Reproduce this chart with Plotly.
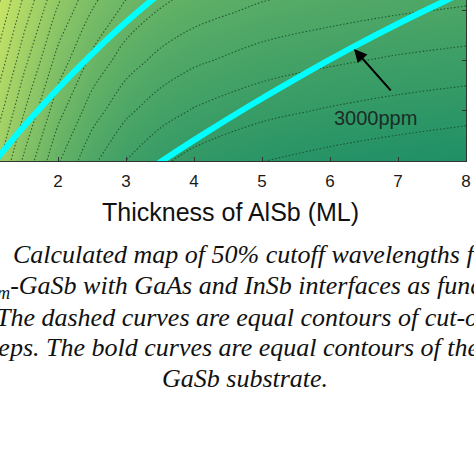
import plotly.graph_objects as go

# ---- data ----
# grid for the cut-off wavelength map (arbitrary um units)
alsb_ml = [1.1, 1.5, 2.0, 2.5, 3.0, 3.5, 4.0, 5.0, 6.0, 7.0, 8.0]
inas_ml = [6, 7, 8, 9, 10]
cutoff = [
    [10.15, 8.90, 7.56, 6.61, 5.99, 5.59, 5.33, 5.01, 4.82, 4.68, 4.56],
    [10.78, 9.53, 8.18, 7.24, 6.61, 6.22, 5.96, 5.64, 5.45, 5.30, 5.19],
    [11.41, 10.16, 8.81, 7.87, 7.24, 6.85, 6.59, 6.27, 6.08, 5.93, 5.82],
    [12.04, 10.79, 9.44, 8.50, 7.87, 7.48, 7.22, 6.90, 6.71, 6.56, 6.45],
    [12.67, 11.42, 10.07, 9.13, 8.50, 8.11, 7.85, 7.53, 7.34, 7.19, 7.08],
]
# bold strain contours
strain1_x = [0.971, 1.147, 1.441, 1.735, 2.029, 2.471, 2.912, 3.382, 3.574]
strain1_y = [5.823, 6.119, 6.600, 7.048, 7.481, 8.090, 8.654, 9.201, 9.410]
strain2_x = [3.353, 3.529, 4.088, 4.824, 5.559, 6.294, 7.029, 7.721, 7.912]
strain2_y = [5.841, 6.0, 6.489, 7.103, 7.684, 8.233, 8.748, 9.201, 9.320]
x_ticks = [2, 3, 4, 5, 6, 7, 8]
y_ticks = [6, 7, 8, 9]
strain_label = "3000ppm"
x_title = "Thickness of AlSb (ML)"
caption = [
    ("<i>Calculated map of 50% cutoff wavelengths for</i>", 11, 254, "left"),
    ("<i><sub>m</sub>-GaSb with GaAs and InSb interfaces as functions</i>", -5, 287, "left"),
    ("<i>The dashed curves are equal contours of cut-off</i>", -6, 317, "left"),
    ("<i>steps. The bold curves are equal contours of the</i>", -21, 347, "left"),
    ("<i>GaSb substrate.</i>", 245, 379, "center"),
]

W, H = 474, 474
PL, PR, PT, PB = 0, 8, 0, 313
PW, PH = W - PL - PR, H - PT - PB


def px(xp):
    return (xp - PL) / PW


def py(yp):
    return (PH + PT - yp) / PH


summer = [[0, "rgb(0,128,102)"], [1, "rgb(255,255,102)"]]

fig = go.Figure()
fig.add_trace(go.Contour(
    x=alsb_ml, y=inas_ml, z=cutoff,
    colorscale=summer, zmin=3.2, zmax=14.4, showscale=False,
    contours=dict(start=4, end=13, size=0.5, coloring="heatmap", showlabels=False),
    line=dict(color="rgba(20,70,35,0.8)", width=1.1, dash="1.5px,2px"),
    hoverinfo="skip",
))
for sx, sy in [(strain1_x, strain1_y), (strain2_x, strain2_y)]:
    fig.add_trace(go.Scatter(x=sx, y=sy, mode="lines",
                             line=dict(color="#00ffff", width=6, shape="spline"),
                             showlegend=False, hoverinfo="skip"))

ann = []
# arrow to the 3000 ppm curve
ann.append(dict(x=6.353, y=8.227, xref="x", yref="y", text="", showarrow=True,
                ax=38, ay=43, arrowhead=2, arrowsize=1.3, arrowwidth=2, arrowcolor="#000"))
ann.append(dict(x=6.676, y=6.855, xref="x", yref="y", text=strain_label, showarrow=False,
                font=dict(family="Liberation Sans, Arial", size=20, color="#1a2e26")))
ann.append(dict(x=px(230), y=py(212), xref="paper", yref="paper", text=x_title,
                showarrow=False, xanchor="center", yanchor="middle",
                font=dict(family="Liberation Sans, Arial", size=25, color="#111")))
for txt, xp, yp, anc in caption:
    ann.append(dict(x=px(xp), y=py(yp), xref="paper", yref="paper", text=txt,
                    showarrow=False, xanchor=anc, yanchor="middle",
                    font=dict(family="Liberation Serif, Times New Roman", size=26, color="#111")))

fig.update_layout(
    width=W, height=H, margin=dict(l=PL, r=PR, t=PT, b=PB, pad=0),
    paper_bgcolor="white", plot_bgcolor="white", showlegend=False,
    annotations=ann,
    xaxis=dict(range=[1.147, 8], tickvals=x_ticks, ticks="inside", ticklen=4,
               tickcolor="#333", showline=True, linecolor="#333", linewidth=1,
               mirror=False, showgrid=False, zeroline=False, ticklabelstandoff=5,
               tickfont=dict(family="Liberation Sans, Arial", size=17, color="#1a1a1a")),
    yaxis=dict(range=[6, 9.2], tickvals=y_ticks, side="right", ticks="inside", ticklen=4,
               tickcolor="#333", showline=True, linecolor="#333", linewidth=1,
               mirror=False, showgrid=False, zeroline=False, showticklabels=False),
)
fig.write_html("out.html", config={"displayModeBar": False, "staticPlot": True},
               post_script="document.body.style.margin='0';document.body.style.padding='0';"
                           "document.body.style.overflow='hidden';")
